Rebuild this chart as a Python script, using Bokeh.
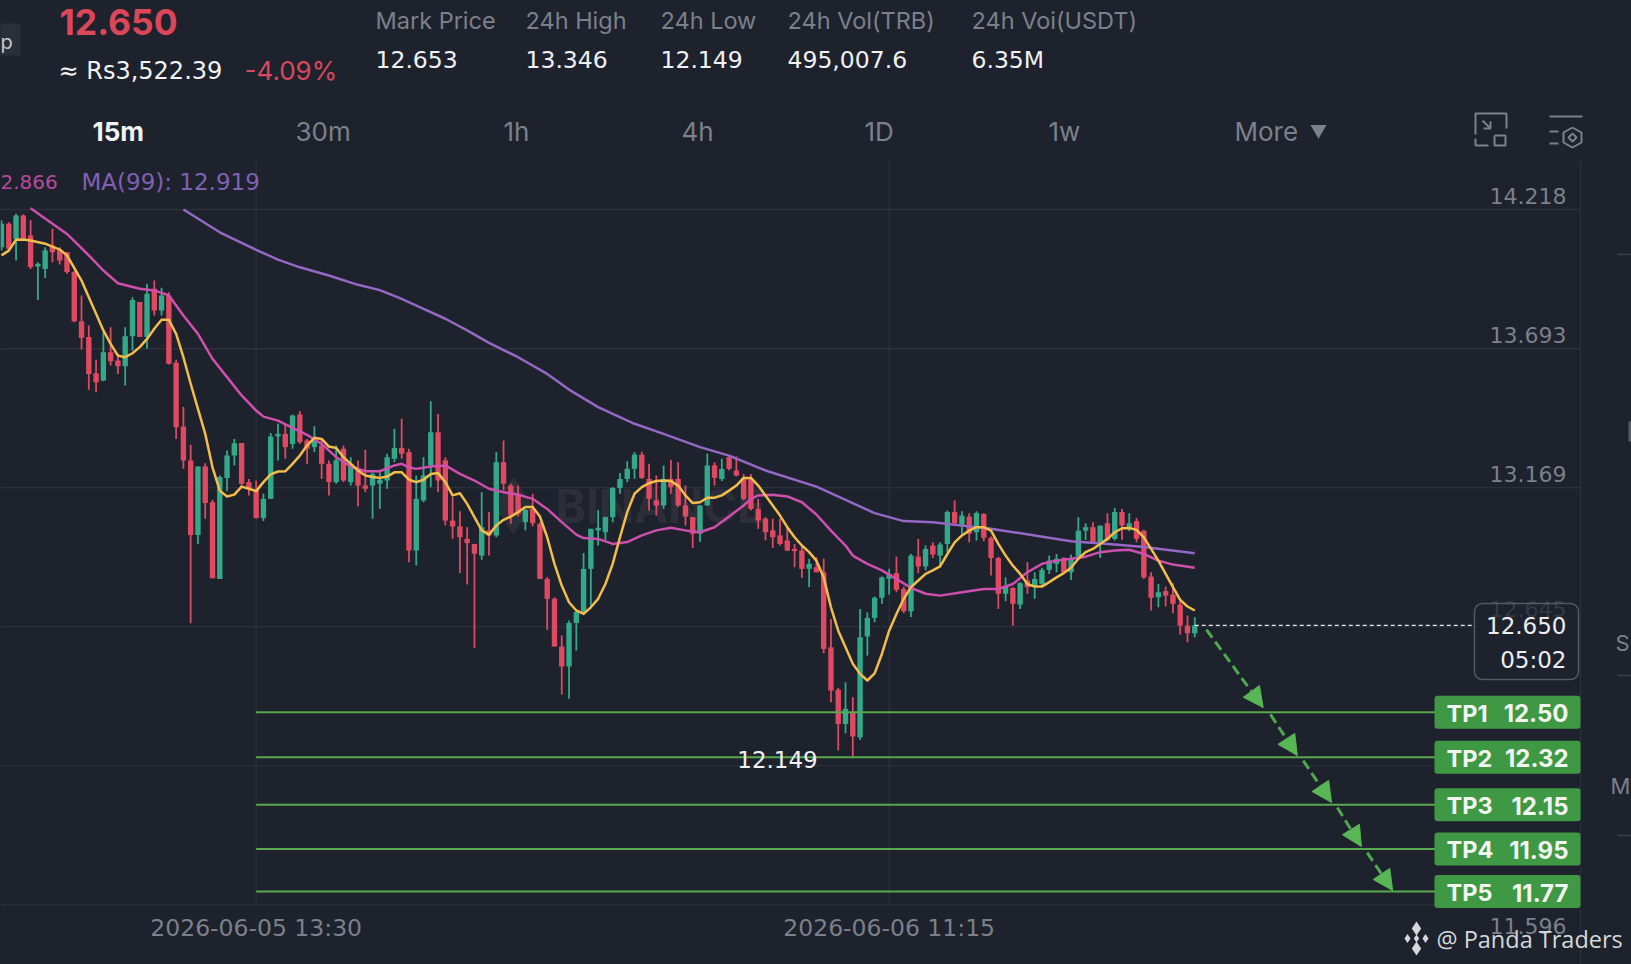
from bokeh.plotting import figure
from bokeh.embed import file_html
from bokeh.resources import INLINE
from bokeh.models import Range1d, Label, Arrow, NormalHead, BoxAnnotation

W, H = 1631, 964
BG = "#1e222d"
UP, DOWN = "#33a98a", "#df4a62"
GRID = "#2b303b"
MUTED = "#7b808a"
NUM = "DejaVu Sans"

open_ = [14.076,14.164,14.107,14.195,14.120,14.003,13.994,14.082,14.063,14.057,
13.982,13.797,13.737,13.601,13.573,13.680,13.649,13.627,13.740,13.869,
13.737,13.919,13.837,13.894,13.640,13.400,13.272,12.991,13.249,13.114,
12.825,13.206,13.290,13.338,13.190,13.161,13.055,13.127,13.362,13.372,
13.334,13.445,13.347,13.322,13.328,13.259,13.190,13.316,13.190,13.234,
13.177,13.177,13.184,13.196,13.278,13.319,13.303,12.932,13.121,13.253,
13.378,13.272,13.045,13.023,12.976,12.957,12.913,13.008,12.989,13.265,
13.177,13.146,13.039,13.089,13.033,12.825,12.750,12.570,12.495,12.659,
12.700,12.863,13.008,13.001,13.058,13.168,13.202,13.240,13.294,13.202,
13.121,13.102,13.202,13.202,13.102,13.058,12.995,13.102,13.253,13.202,
13.284,13.234,13.206,13.202,13.089,13.052,13.008,12.989,12.970,12.938,
12.932,12.863,12.869,12.850,12.567,12.407,12.278,12.322,12.228,12.608,
12.678,12.754,12.825,12.847,12.787,12.703,12.909,12.872,12.951,12.913,
12.957,13.077,13.026,13.060,13.001,13.070,12.980,12.904,12.769,12.791,
12.728,12.819,12.800,12.806,12.859,12.882,12.904,12.850,12.909,13.007,
13.020,12.963,13.035,12.976,13.077,13.020,13.043,13.007,12.834,12.756,
12.779,12.766,12.728,12.649,12.620]
close = [14.164,14.070,14.195,14.107,14.001,14.013,14.063,14.057,14.026,13.982,
13.797,13.734,13.598,13.567,13.680,13.646,13.627,13.740,13.877,13.737,
13.900,13.837,13.894,13.636,13.397,13.272,12.991,13.249,13.111,12.828,
13.209,13.290,13.337,13.184,13.165,13.055,13.127,13.362,13.372,13.322,
13.441,13.341,13.316,13.360,13.259,13.190,13.272,13.196,13.259,13.177,
13.165,13.221,13.199,13.284,13.319,13.297,12.932,13.127,13.215,13.378,
13.196,13.045,13.023,12.982,12.960,12.920,13.020,12.989,13.265,13.184,
13.064,13.070,13.085,13.035,12.825,12.750,12.570,12.495,12.659,12.700,
12.863,13.014,13.018,13.058,13.168,13.202,13.240,13.294,13.206,13.127,
13.102,13.202,13.171,13.102,13.060,12.995,13.102,13.253,13.206,13.240,
13.240,13.215,13.127,13.089,13.045,13.001,12.982,12.957,12.932,12.930,
12.863,12.882,12.850,12.561,12.404,12.278,12.335,12.231,12.605,12.678,
12.754,12.831,12.844,12.784,12.703,12.913,12.872,12.938,12.917,12.955,
13.077,13.035,13.064,12.995,13.073,12.980,12.904,12.769,12.796,12.731,
12.809,12.794,12.825,12.859,12.894,12.901,12.850,12.904,13.007,13.020,
12.963,13.026,12.972,13.077,13.026,13.035,12.976,12.831,12.754,12.775,
12.762,12.731,12.649,12.620,12.650]
high = [14.177,14.170,14.202,14.199,14.177,14.019,14.076,14.145,14.076,14.057,
13.986,13.894,13.781,13.651,13.755,13.774,13.674,13.774,13.887,13.869,
13.938,13.950,13.923,13.906,13.651,13.473,13.331,13.249,13.261,13.124,
13.215,13.309,13.353,13.338,13.202,13.196,13.146,13.375,13.410,13.407,
13.445,13.458,13.353,13.401,13.353,13.272,13.328,13.328,13.284,13.272,
13.312,13.227,13.227,13.297,13.391,13.429,13.316,13.215,13.284,13.495,
13.447,13.284,13.133,13.080,13.020,12.957,13.152,13.077,13.303,13.347,
13.184,13.177,13.089,13.146,13.039,12.832,12.756,12.612,12.668,12.706,
12.923,13.014,13.085,13.060,13.171,13.224,13.269,13.303,13.305,13.259,
13.215,13.253,13.274,13.265,13.177,13.058,13.102,13.297,13.265,13.278,
13.290,13.287,13.221,13.221,13.127,13.058,13.052,13.052,13.020,12.957,
12.951,12.901,12.907,12.901,12.674,12.414,12.435,12.379,12.712,12.699,
12.759,12.834,12.863,12.909,12.796,12.919,12.976,12.951,12.963,12.963,
13.083,13.121,13.080,13.073,13.080,13.073,12.985,12.909,12.831,12.794,
12.813,12.888,12.850,12.867,12.913,12.919,12.907,12.917,13.058,13.035,
13.039,13.026,13.073,13.093,13.089,13.073,13.055,13.010,12.850,12.806,
12.796,12.809,12.743,12.687,12.681]
low = [14.063,14.063,14.026,14.101,13.994,13.877,13.960,14.019,14.011,13.975,
13.793,13.690,13.538,13.529,13.570,13.630,13.598,13.554,13.686,13.737,
13.693,13.818,13.818,13.634,13.353,13.240,12.658,12.957,13.052,12.828,
12.825,13.156,13.253,13.177,13.140,13.052,13.043,13.127,13.272,13.278,
13.316,13.334,13.259,13.303,13.202,13.140,13.184,13.190,13.177,13.098,
13.152,13.052,13.089,13.165,13.265,13.278,12.888,12.876,13.114,13.171,
13.152,13.026,12.976,12.847,12.804,12.564,12.897,12.913,12.982,13.158,
13.033,13.060,13.008,13.023,12.825,12.633,12.570,12.389,12.373,12.555,
12.696,12.718,12.951,12.970,13.039,13.146,13.190,13.202,13.202,13.083,
13.064,13.089,13.146,13.096,13.026,12.942,12.964,13.102,13.177,13.194,
13.234,13.211,13.121,13.083,13.014,12.970,12.942,12.951,12.930,12.869,
12.829,12.794,12.850,12.545,12.360,12.178,12.243,12.149,12.218,12.536,
12.662,12.731,12.766,12.775,12.696,12.681,12.847,12.857,12.904,12.875,
12.926,13.030,12.989,12.963,12.970,12.967,12.838,12.712,12.741,12.649,
12.712,12.769,12.750,12.794,12.844,12.850,12.844,12.821,12.904,12.972,
12.957,12.904,12.967,12.970,12.972,13.005,12.963,12.825,12.706,12.718,
12.721,12.696,12.615,12.586,12.605]

ma7_bar = [0,1,2,3,4,6,8,9] + list(range(11, 165))
ma7 = [14.045,14.063,14.104,14.105,14.101,14.089,14.067,14.045,
13.950,13.887,13.825,13.762,13.711,13.667,13.661,13.676,13.699,
13.730,13.768,13.802,13.802,13.749,13.661,13.561,13.466,13.372,13.246,
13.158,13.136,13.143,13.173,13.165,13.156,13.190,13.219,13.230,13.231,
13.259,13.290,13.328,13.357,13.353,13.324,13.319,13.284,13.259,13.234,
13.215,13.209,13.206,13.211,13.227,13.227,13.199,13.190,
13.199,13.221,13.224,13.190,13.140,13.148,13.108,13.058,13.008,12.992,
13.026,13.048,13.060,13.077,13.096,13.096,13.060,12.982,12.882,12.800,
12.737,12.706,12.693,12.718,12.750,12.806,12.882,12.982,13.077,13.146,
13.171,13.186,13.194,13.196,13.194,13.177,13.140,13.111,13.114,13.131,
13.131,13.140,13.158,13.177,13.206,13.206,13.177,13.140,13.102,13.064,
13.020,12.982,12.951,12.926,12.894,
12.831,12.718,12.630,12.567,12.505,12.467,12.442,12.469,12.542,12.630,
12.693,12.750,12.794,12.819,12.844,12.857,12.872,12.919,12.963,12.989,
13.007,13.020,13.020,13.007,12.957,12.913,12.875,12.844,12.806,12.796,
12.796,12.813,12.831,12.847,12.867,12.901,12.926,12.938,12.957,12.976,
13.001,13.016,13.017,13.010,12.982,12.938,12.894,12.844,12.794,12.746,
12.721,12.706]

ma25_bar = [4,9,12,14,16,19,21,23,25,27,29,31,33,35,36,38,40,42,44,46,48,50,52,54,55,56,57,
59,61,63,65,67,69,71,73,75,77,79,80,82,84,86,88,90,92,94,96,98,100,102,103,104,106,108,110,112,
114,116,117,119,121,123,125,127,129,132,135,137,139,141,143,145,147,149,151,153,155,157,159,161,164]
ma25 = [14.223,14.126,14.045,13.988,13.940,13.919,13.913,13.894,13.818,13.749,13.655,13.586,13.517,
13.460,13.437,13.422,13.395,13.368,13.334,13.284,13.249,13.231,13.231,13.253,13.259,13.246,13.240,
13.249,13.253,13.221,13.196,13.165,13.152,13.143,13.127,13.089,13.039,12.992,12.979,12.976,12.957,
12.964,12.989,13.008,13.018,13.008,13.001,13.020,13.060,13.102,13.127,13.140,13.142,13.136,13.114,13.068,
13.007,12.951,12.913,12.882,12.857,12.825,12.791,12.769,12.762,12.775,12.787,12.787,12.806,12.850,
12.882,12.894,12.901,12.909,12.926,12.932,12.935,12.919,12.894,12.879,12.867]

ma99_bar = [25,30,33,35,38,41,45,49,52,55,58,61,64,67,71,75,78,82,87,91,96,100,105,112,113,116,120,124,128,132,136,142,147,153,157,164]
ma99 = [14.218,14.132,14.092,14.066,14.029,14.000,13.969,13.934,13.914,13.881,13.843,13.806,13.762,13.715,
13.661,13.598,13.539,13.473,13.410,13.372,13.322,13.290,13.234,13.173,13.161,13.123,13.073,13.043,13.039,
13.026,13.014,12.989,12.967,12.955,12.945,12.922]

price_ticks = [14.218, 13.693, 13.169, 12.645, 12.120, 11.596]
time_ticks_bar = [35, 122]
time_ticks = ["2026-06-05 13:30", "2026-06-06 11:15"]
last_price = 12.650

tp_names = ["TP1", "TP2", "TP3", "TP4", "TP5"]
tp_values = ["12.50", "12.32", "12.15", "11.95", "11.77"]
tp_axis = [12.3225, 12.153, 11.973, 11.807, 11.646]

arrow_bar = [165.6,173.4, 174.4,178.1, 178.9,182.8, 183.6,186.9, 187.7,191.2]
arrow_price = [12.634,12.340, 12.314,12.159, 12.140,11.982, 11.963,11.816, 11.793,11.650]

stat_names = ["Mark Price", "24h High", "24h Low", "24h Vol(TRB)", "24h Voi(USDT)"]
stat_values = ["12.653", "13.346", "12.149", "495,007.6", "6.35M"]
intervals = ["15m", "30m", "1h", "4h", "1D", "1w", "More"]

# layout helpers: picture pixel -> bar index / price
X = lambda px: (px - 1) / 7.276
Y = lambda py: 14.218 - (py - 209) / 265.2

p = figure(width=W, height=H, x_range=Range1d(X(0), X(W)), y_range=Range1d(Y(H), Y(0)),
           x_axis_type=None, y_axis_type=None, output_backend="svg", toolbar_location=None,
           min_border=0, background_fill_color=BG, border_fill_color=BG, outline_line_color=None)


def label(text, px, py, size, color, align="left", style="normal", font="Inter", alpha=1.0, level="overlay"):
    p.add_layout(Label(x=px, y=H - py, x_units="screen", y_units="screen", text=text,
                       text_font=font, text_font_size=f"{size}px", text_color=color,
                       text_align=align, text_baseline="middle", text_font_style=style,
                       text_alpha=alpha, level=level))


# grid
p.segment(x0=X(0), x1=X(1580), y0=price_ticks, y1=price_ticks, line_color=GRID, line_width=1.3)
p.segment(x0=time_ticks_bar, x1=time_ticks_bar, y0=Y(160), y1=Y(904), line_color=GRID, line_width=1.3)
p.segment(x0=X(1580), x1=X(1580), y0=Y(160), y1=Y(H), line_color=GRID, line_width=1.3)

# depth panel remnants at the right edge
p.segment(x0=X(1617), x1=X(W), y0=[Y(254), Y(675), Y(835)], y1=[Y(254), Y(675), Y(835)], line_color="#3a3f4a", line_width=1.5)
p.quad(left=[X(1628)], right=[X(W)], top=[Y(421)], bottom=[Y(441)], fill_color="#565b64", line_color=None)
label("S", 1615, 642, 22, MUTED)
label("M", 1610, 785, 22, MUTED)

# watermark
label("BINANCE", 555, 505, 46, "#ffffff", style="bold", alpha=0.08, level="underlay")
p.scatter(x=[X(513)], y=[Y(505)], marker="diamond", size=58, fill_color="#ffffff", fill_alpha=0.06, line_color=None)

# candles
bars = list(range(len(close)))
colors = [UP if c >= o else DOWN for o, c in zip(open_, close)]
p.segment(x0=bars, x1=bars, y0=low, y1=high, line_color=colors, line_width=1.8)
p.vbar(x=bars, width=0.74, top=[max(o, c) for o, c in zip(open_, close)],
       bottom=[min(o, c) for o, c in zip(open_, close)], fill_color=colors, line_color=None)

# moving averages
p.line(ma99_bar, ma99, line_color="#9468c4", line_width=2.5, line_join="round")
p.line(ma25_bar, ma25, line_color="#cf4fae", line_width=2.5, line_join="round")
p.line(ma7_bar, ma7, line_color="#f3bd4c", line_width=2.5, line_join="round")

# last price
p.segment(x0=bars[-1], x1=X(1474), y0=last_price, y1=last_price, line_color="#e4e6ea",
          line_width=1.3, line_dash="4 3")

# take-profit levels
p.segment(x0=time_ticks_bar[0], x1=X(1436), y0=tp_axis, y1=tp_axis, line_color="#58a94f", line_width=2)
p.rect(x=X(1507), y=tp_axis, width=146, height=33, width_units="screen", height_units="screen",
       fill_color="#3f9844", line_color=None, border_radius=3)
for name, val, lvl in zip(tp_names, tp_values, tp_axis):
    py = 209 + (14.218 - lvl) * 265.2
    label(name, 1446, py + 1, 23.5, "#f2f5f0", style="bold")
    label(val, 1568, py + 1, 24, "#f2f5f0", align="right", style="bold")

# projected path
for i in range(0, len(arrow_bar), 2):
    p.add_layout(Arrow(x_start=arrow_bar[i], y_start=arrow_price[i], x_end=arrow_bar[i + 1], y_end=arrow_price[i + 1],
                       line_color="#4fa850", line_width=3, line_dash="10 5",
                       end=NormalHead(size=20, fill_color="#58b654", line_color="#58b654")))

# price axis labels
for t, py in zip(price_ticks, [195.5, 334, 473, None, None, 925]):
    if py is not None:
        label(f"{t:.3f}", 1566, py, 22, MUTED, align="right", font=NUM)
label("12.645", 1566, 608, 22, MUTED, align="right", alpha=0.25, font=NUM)

# current price box
p.add_layout(BoxAnnotation(left=X(1474), right=X(1578), top=Y(603), bottom=Y(679), fill_color=BG, fill_alpha=0.82,
                           line_color="#d5d8dc", line_width=1.5, border_radius=8, level="annotation"))
label(f"{last_price:.3f}", 1566, 625, 23, "#eceef0", align="right", font=NUM)
label("05:02", 1566, 659, 23, "#eceef0", align="right", font=NUM)
label("12.149", 777, 759, 23, "#f0f1f3", align="center", font=NUM)

# time labels
for b, t in zip(time_ticks_bar, time_ticks):
    label(t, 1 + b * 7.276, 927, 23.5, MUTED, align="center", font=NUM)

# header
p.quad(left=[X(-4)], right=[X(20)], top=[Y(23)], bottom=[Y(55)], fill_color="#2b2f3a", line_color=None)
label("p", 0, 41, 20, "#c6c8cc")
label("12.650", 59, 21, 35.5, "#dc4659", style="bold")
label("≈ Rs3,522.39", 58, 70, 24, "#f2f3f5", font=NUM)
label("-4.09%", 244, 70, 26, "#d9485c")
for name, val, px in zip(stat_names, stat_values, [375, 525, 660, 787, 971]):
    label(name, px, 20, 23.5, MUTED)
    label(val, px, 59, 23.5, "#f0f1f3", font=NUM)
for name, px, col, sty in zip(intervals, [92, 295, 503, 681, 864, 1048, 1234],
                              ["#f2f3f5"] + [MUTED] * 6, ["bold"] + ["normal"] * 6):
    label(name, px, 131, 26, col, style=sty)
p.scatter(x=[X(1318)], y=[Y(129)], marker="inverted_triangle", size=16, fill_color=MUTED, line_color=None)

label("2.866", 0, 181, 20, "#b54a9c", font=NUM)
label("MA(99): 12.919", 81, 181, 23, "#7f61b3", font=NUM)

# toolbar icons
icons = [[(1475, 134), (1475, 113), (1506, 113), (1506, 128)], [(1475, 138), (1475, 145), (1488, 145)],
         [(1494, 135), (1505, 135), (1505, 145), (1494, 145), (1494, 135)], [(1482, 120), (1490, 128)],
         [(1490, 121), (1490, 128), (1483, 128)],
         [(1549, 116), (1582, 116)], [(1549, 131), (1558, 131)], [(1549, 143), (1558, 143)],
         [(1572, 127), (1581, 132), (1581, 142), (1572, 147), (1563, 142), (1563, 132), (1572, 127)],
         [(1572, 133), (1576, 137), (1572, 141), (1568, 137), (1572, 133)]]
p.multi_line([[X(a) for a, _ in s] for s in icons], [[Y(b) for _, b in s] for s in icons],
             line_color=MUTED, line_width=2)

# attribution
label("@ Panda Traders", 1436, 938, 23.5, "#d6d8db", font="Open Sans")
p.scatter(x=[X(1416), X(1416), X(1416), X(1407), X(1425)], y=[Y(928), Y(948), Y(938), Y(938), Y(938)],
          marker="diamond", size=[14, 14, 8, 9, 9], fill_color="#d6d8db", line_color=None)

html = file_html(p, INLINE)
html = html.replace("</head>", f"<style>html,body{{margin:0;padding:0;background:{BG};overflow:hidden}}</style></head>", 1)
open("out.html", "w").write(html)
